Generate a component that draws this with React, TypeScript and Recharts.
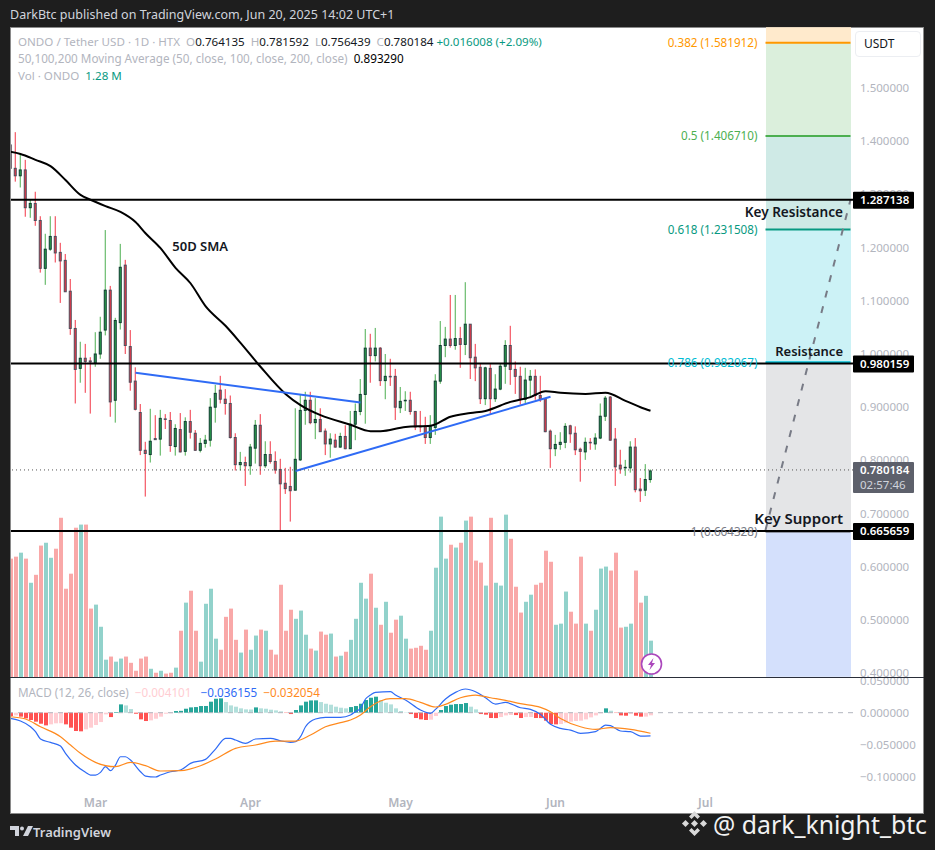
import React from "react";
import { ComposedChart, Bar, Line, XAxis, YAxis, ReferenceLine, ReferenceArea, Cell } from "recharts";

const opens = [1.393,1.349,1.335,1.346,1.275,1.283,1.251,1.161,1.197,1.221,1.191,1.176,1.118,1.048,0.973,0.992,0.987,0.983,1.000,1.045,1.120,0.913,1.059,1.167,1.014,0.949,0.890,0.819,0.811,0.841,0.840,0.878,0.875,0.826,0.858,0.817,0.873,0.851,0.819,0.832,0.838,0.900,0.932,0.915,0.907,0.843,0.792,0.796,0.790,0.823,0.866,0.790,0.811,0.798,0.783,0.757,0.751,0.744,0.801,0.894,0.913,0.871,0.877,0.855,0.831,0.838,0.825,0.845,0.822,0.868,0.892,0.924,1.011,0.997,1.011,0.950,0.958,0.958,0.899,0.912,0.913,0.892,0.864,0.864,0.843,0.862,0.949,1.016,1.028,1.016,1.029,1.018,1.056,0.994,0.975,0.916,0.973,0.916,0.934,0.977,1.016,0.971,0.958,0.915,0.951,0.958,0.922,0.916,0.855,0.822,0.830,0.834,0.865,0.851,0.821,0.816,0.834,0.831,0.842,0.883,0.919,0.840,0.791,0.786,0.786,0.825,0.746,0.744,0.764];
const highs = [1.402,1.417,1.377,1.365,1.291,1.305,1.259,1.226,1.259,1.259,1.209,1.188,1.141,1.064,1.023,1.019,0.994,1.041,1.070,1.233,1.128,1.068,1.207,1.177,1.045,0.975,0.906,0.835,0.897,0.885,0.895,0.887,0.891,0.868,0.889,0.881,0.895,0.857,0.842,0.848,0.917,0.942,0.959,0.934,0.922,0.851,0.816,0.807,0.831,0.876,0.887,0.836,0.836,0.817,0.803,0.786,0.788,0.898,0.923,0.929,0.929,0.917,0.898,0.860,0.851,0.850,0.852,0.866,0.893,0.907,0.953,1.047,1.038,1.049,1.013,1.000,0.991,0.972,0.938,0.930,0.929,0.893,0.893,0.882,0.885,0.962,1.062,1.051,1.111,1.111,1.051,1.135,1.056,1.019,0.982,0.976,0.981,0.962,0.982,1.026,1.053,0.986,0.976,0.974,0.970,0.971,0.959,0.917,0.858,0.848,0.853,0.870,0.867,0.864,0.824,0.843,0.842,0.851,0.907,0.921,0.921,0.861,0.820,0.801,0.836,0.842,0.767,0.793,0.783];
const lows = [1.299,1.324,1.313,1.258,1.256,1.241,1.153,1.130,1.194,1.172,1.096,1.117,1.036,0.907,0.946,0.927,0.888,0.976,0.991,1.035,0.882,0.871,1.046,1.000,0.931,0.894,0.810,0.732,0.796,0.839,0.809,0.859,0.816,0.809,0.815,0.809,0.841,0.818,0.815,0.824,0.826,0.871,0.907,0.886,0.841,0.781,0.781,0.752,0.773,0.794,0.773,0.786,0.794,0.775,0.666,0.737,0.685,0.744,0.799,0.867,0.868,0.840,0.854,0.810,0.805,0.824,0.824,0.821,0.822,0.838,0.885,0.869,0.946,0.986,0.940,0.915,0.940,0.876,0.889,0.893,0.886,0.857,0.853,0.831,0.831,0.848,0.944,0.994,1.012,1.008,0.974,0.998,0.953,0.949,0.906,0.904,0.888,0.910,0.932,0.944,0.942,0.925,0.905,0.908,0.917,0.914,0.910,0.853,0.786,0.808,0.820,0.823,0.833,0.810,0.760,0.801,0.820,0.820,0.840,0.874,0.837,0.752,0.775,0.771,0.777,0.740,0.722,0.733,0.758];
const closes = [1.349,1.335,1.346,1.275,1.283,1.251,1.161,1.197,1.221,1.190,1.175,1.117,1.048,0.971,0.992,0.986,0.985,1.000,1.041,1.120,0.910,1.063,1.163,1.016,0.947,0.896,0.819,0.813,0.836,0.839,0.879,0.877,0.828,0.860,0.816,0.873,0.853,0.819,0.832,0.838,0.900,0.926,0.915,0.907,0.843,0.792,0.796,0.790,0.825,0.866,0.790,0.811,0.798,0.782,0.756,0.747,0.743,0.802,0.894,0.913,0.871,0.877,0.854,0.831,0.840,0.825,0.845,0.822,0.868,0.892,0.924,1.011,0.997,1.011,0.950,0.958,0.957,0.900,0.911,0.913,0.892,0.863,0.863,0.843,0.864,0.949,1.016,1.028,1.016,1.029,1.018,1.056,0.993,0.974,0.916,0.974,0.916,0.934,0.977,1.016,0.971,0.958,0.915,0.951,0.958,0.922,0.915,0.854,0.822,0.830,0.834,0.864,0.850,0.820,0.817,0.834,0.833,0.842,0.883,0.917,0.838,0.788,0.784,0.787,0.825,0.745,0.743,0.764,0.780184];
const volumes = [4.17,4.24,4.38,4.17,3.32,3.60,4.63,4.73,4.20,4.52,5.61,3.11,3.64,5.26,5.37,5.37,2.41,2.55,1.77,0.61,0.72,0.54,0.65,0.72,0.50,0.22,0.65,0.72,0.29,0.15,0.22,0.12,0.15,0.33,1.63,2.62,3.04,1.63,0.54,2.58,3.11,1.35,0.96,2.12,2.41,1.31,0.86,1.67,0.96,1.46,1.67,1.63,0.96,0.79,3.25,1.63,2.37,2.05,2.34,1.49,1.00,0.93,1.60,1.49,1.53,0.72,0.75,0.89,1.31,2.05,3.32,2.76,3.64,2.44,1.84,2.65,1.56,2.02,2.16,1.35,1.00,1.03,1.10,0.96,1.63,3.85,5.65,4.17,4.66,4.56,4.73,5.51,5.65,4.10,4.03,3.22,5.61,3.32,3.22,5.72,4.87,3.18,2.27,2.65,2.90,3.25,3.32,4.45,4.06,1.84,1.88,3.01,2.30,1.88,4.24,1.88,1.63,2.37,3.82,3.89,3.75,4.38,1.74,1.77,1.88,3.75,2.62,2.86,1.28];
const histogram = [-.0052,-.0042,-.0062,-.0088,-.0114,-.0140,-.0172,-.0198,-.0182,-.0166,-.0164,-.0182,-.0234,-.0286,-.0291,-.0260,-.0234,-.0192,-.0146,-.0026,-.0068,.0010,.0130,.0114,.0057,-.0016,-.0104,-.0130,-.0120,-.0094,-.0062,-.0016,-.0010,.0026,.0029,.0062,.0083,.0088,.0104,.0105,.0172,.0218,.0224,.0166,.0114,.0094,.0068,.0052,.0050,.0083,.0068,.0062,.0047,.0036,.0021,-.0005,-.0021,.0042,.0114,.0172,.0192,.0193,.0166,.0140,.0125,.0094,.0078,.0068,.0088,.0104,.0140,.0198,.0234,.0250,.0198,.0156,.0130,.0068,.0026,.0005,-.0021,-.0083,-.0104,-.0114,-.0109,-.0052,.0042,.0104,.0125,.0135,.0136,.0151,.0094,.0052,-.0021,-.0031,-.0083,-.0084,-.0068,-.0042,-.0036,-.0037,-.0083,-.0068,-.0067,-.0083,-.0084,-.0125,-.0177,-.0182,-.0177,-.0156,-.0140,-.0130,-.0125,-.0104,-.0073,-.0042,-.0010,.0068,.0031,-.0005,-.0042,-.0047,-.0021,-.0047,-.0062,-.0061,-.0041];

const smaDays = [0,2,5,8,11,14,16,19,22,25,27,30,33,36,39,43,46,50,55,58,62,68,72,74,79,84,88,92,95,100,104,107,110,115,119,123,126,128];
const smaValues = [1.380,1.376,1.365,1.353,1.327,1.299,1.290,1.278,1.267,1.248,1.227,1.199,1.162,1.133,1.090,1.053,1.021,0.976,0.925,0.904,0.885,0.867,0.855,0.855,0.863,0.865,0.882,0.889,0.893,0.910,0.919,0.930,0.927,0.925,0.927,0.912,0.900,0.8933];
const macdDays = [0,2,4,5,6,8,10,11,13,15,16,17,18,19,20,21,22,23,24,26,27,29,30,32,34,36,39,41,43,44,45,47,49,52,54,56,57,58,59,61,63,66,68,69,70,71,72,73,76,77,79,82,84,85,87,89,91,93,95,97,99,102,104,106,108,110,112,114,117,118,119,120,122,124,126,128];
const macdValues = [-.0089,-.0130,-.0219,-.0297,-.0411,-.0464,-.0521,-.0635,-.0818,-.0932,-.0974,-.0974,-.0932,-.0844,-.0906,-.0818,-.0688,-.0688,-.0740,-.0922,-.0990,-.1005,-.0974,-.0922,-.0896,-.0792,-.0729,-.0568,-.0401,-.0401,-.0427,-.0479,-.0411,-.0401,-.0438,-.0464,-.0453,-.0375,-.0219,-.0099,-.0073,-.0073,-.0036,.0016,.0068,.0214,.0276,.0318,.0328,.0276,.0198,.0042,-.0010,.0052,.0214,.0318,.0370,.0328,.0234,.0135,.0161,.0078,.0052,-.0026,-.0182,-.0245,-.0271,-.0323,-.0297,-.0245,-.0193,-.0203,-.0286,-.0297,-.0365,-.0362];
const signalDays = [0,3,6,10,12,14,17,21,24,27,30,34,38,41,45,49,53,57,60,63,66,68,70,72,74,76,79,82,85,87,90,93,96,99,102,106,108,110,114,117,120,124,128];
const signalValues = [-.0063,-.0099,-.0219,-.0375,-.0505,-.0635,-.0776,-.0844,-.0776,-.0828,-.0911,-.0906,-.0828,-.0724,-.0557,-.0505,-.0443,-.0443,-.0349,-.0219,-.0156,-.0115,-.0036,.0094,.0182,.0219,.0219,.0161,.0089,.0130,.0234,.0276,.0234,.0193,.0141,.0083,.0016,-.0089,-.0219,-.0260,-.0234,-.0260,-.0321];

const totalDays = 169;
const monthTicks = [17, 48, 78, 109, 139];
const monthNames = ["Mar", "Apr", "May", "Jun", "Jul"];
const priceTicks = [0.4,0.5,0.6,0.7,0.8,0.9,1.0,1.1,1.2,1.3,1.4,1.5];
const macdTicks = [0.05,0,-0.05,-0.1];

const fibLevels = [
  { label: "0.382 (1.581912)", price: 1.581912, color: "#ff9800" },
  { label: "0.5 (1.406710)", price: 1.40671, color: "#4caf50" },
  { label: "0.618 (1.231508)", price: 1.231508, color: "#089981" },
  { label: "0.786 (0.982067)", price: 0.982067, color: "#00bcd4" },
  { label: "1 (0.664328)", price: 0.664328, color: "#787b86" },
];
const fibBands = [
  { from: 1.611, to: 1.581912, fill: "#ffeacc" },
  { from: 1.581912, to: 1.40671, fill: "#dbefdc" },
  { from: 1.40671, to: 1.231508, fill: "#cfeae6" },
  { from: 1.231508, to: 0.982067, fill: "#ccf2f6" },
  { from: 0.982067, to: 0.664328, fill: "#e4e5e7" },
  { from: 0.664328, to: 0.392, fill: "#d4e0fc" },
];
const keyLevels = [1.287138, 0.980159, 0.665659];
const lastPrice = 0.780184;
const countdown = "02:57:46";
const blueLines = [
  [{ d: 25, p: 0.9648 }, { d: 70, p: 0.9087 }],
  [{ d: 57, p: 0.7801 }, { d: 108, p: 0.9198 }],
];
const projection = [{ d: 151, p: 0.6675 }, { d: 168, p: 1.287 }];

const SANS = '"Noto Sans", "Open Sans", sans-serif';
const GREY = "#b2b5be";

const lookup = (days: number[], vals: number[], d: number) => {
  const i = days.indexOf(d);
  return i < 0 ? null : vals[i];
};
const rows = Array.from({ length: totalDays }, (_, day) => ({
  day,
  open: opens[day] ?? null,
  high: highs[day] ?? null,
  low: lows[day] ?? null,
  close: closes[day] ?? null,
  vol: volumes[day] ?? null,
  hist: histogram[day] ?? null,
  sma: lookup(smaDays, smaValues, day),
  macd: lookup(macdDays, macdValues, day),
  signal: lookup(signalDays, signalValues, day),
}));

const isUp = (d: number) => closes[d] >= opens[d];

function histColor(d: number) {
  const v = histogram[d];
  const prev = d > 0 ? histogram[d - 1] : v - 0.001 * Math.sign(v);
  if (v >= 0) return v >= prev ? "#26a69a" : "#b2dfdb";
  return v <= prev ? "#ff5252" : "#ffcdd2";
}

function Candle(props: any) {
  const { x, y, width, height, payload } = props;
  if (payload == null || payload.open == null || !height) return null;
  const ppu = height / (payload.high - payload.low);
  const cx = x + width / 2;
  const top = y + (payload.high - Math.max(payload.open, payload.close)) * ppu;
  const bottom = y + (payload.high - Math.min(payload.open, payload.close)) * ppu;
  const up = payload.close >= payload.open;
  return (
    <g>
      <rect x={cx - 0.5} y={y} width={1} height={height} fill={up ? "#4caf50" : "#f23645"} />
      <rect x={cx - 1} y={top} width={2} height={Math.max(bottom - top, 0.5)} fill={up ? "#2ea84f" : "#f23645"} stroke={up ? "#0e3b30" : "#4c4f5c"} strokeWidth={1} />
    </g>
  );
}

function SnapBar(props: any) {
  const { x, y, width, height, fill } = props;
  if (height == null || Number.isNaN(height)) return null;
  const h = Math.abs(height);
  const top = height < 0 ? y + height : y;
  return <rect x={Math.floor(x)} y={top} width={width} height={h} fill={fill} />;
}

function FibBand(props: any) {
  const { x, y, width, height, fill } = props;
  return <rect x={x + 3} y={y} width={width - 5} height={height} fill={fill} />;
}

function priceTag(value: string, fill: string, sub?: string) {
  return (props: any) => {
    const vb = props.viewBox;
    const right = vb.x + vb.width;
    const cy = vb.y;
    const h = sub ? 31 : 17;
    return (
      <g>
        <rect x={right} y={cy - 8} width={61} height={h} rx={1} fill={fill} />
        <text x={right + 7} y={cy + 4.5} fontFamily={SANS} fontSize={11.5} fontWeight={600} fill="#fff">{value}</text>
        {sub ? <text x={right + 7} y={cy + 19} fontFamily={SANS} fontSize={11.5} fill="#d1d4dc">{sub}</text> : null}
      </g>
    );
  };
}

const annotations = [
  { text: "50D SMA", right: 707, top: 238, size: 13 },
  { text: "Key Resistance", right: 92, top: 203, size: 13.6 },
  { text: "Resistance", right: 92, top: 343, size: 13 },
  { text: "Key Support", right: 92, top: 510, size: 15 },
];

const abs = (left: number, top: number, extra: React.CSSProperties = {}): React.CSSProperties => ({
  position: "absolute", left, top, whiteSpace: "nowrap", fontFamily: SANS, ...extra,
});

export default function App() {
  return (
    <div style={{ position: "absolute", left: 0, top: 0, width: 935, height: 850, background: "#1e1e1e", overflow: "hidden" }}>
      <div style={{ position: "absolute", left: 10, top: 27, width: 914, height: 787, background: "#fff", boxSizing: "border-box", border: "1px solid #8a8a8a" }} />

      {/* volume layer */}
      <div style={{ position: "absolute", left: 0, top: 27 }}>
        <ComposedChart width={935} height={650} data={rows} margin={{ top: 0, right: 82, bottom: 0, left: 8 }}>
          <XAxis dataKey="day" type="category" hide />
          <YAxis hide domain={[0, 22.9]} type="number" allowDataOverflow />
          <Bar dataKey="vol" barSize={4} isAnimationActive={false} shape={<SnapBar />}>
            {rows.map((r) => (
              <Cell key={r.day} fill={r.open != null && isUp(r.day) ? "#92d2cb" : "#f9a8a8"} />
            ))}
          </Bar>
        </ComposedChart>
      </div>

      {/* candles, moving average, trend lines, price axis */}
      <div style={{ position: "absolute", left: 0, top: 27 }}>
        <ComposedChart width={935} height={650} data={rows} margin={{ top: 0, right: 0, bottom: 0, left: 8 }}>
          <XAxis dataKey="day" type="category" hide />
          <YAxis orientation="right" width={82} domain={[0.39286, 1.61466]} type="number" allowDataOverflow ticks={priceTicks} interval={0} tickFormatter={(v: number) => v.toFixed(6)} tick={{ fill: GREY, fontSize: 11.5, fontFamily: SANS }} tickLine={false} tickSize={0} axisLine={false} tickMargin={7} />
          <Bar dataKey={(d: any) => (d.high == null ? null : [d.low, d.high])} barSize={5} isAnimationActive={false} shape={<Candle />} />
          <Line dataKey="sma" type="monotone" connectNulls stroke="#000" strokeWidth={2} dot={false} isAnimationActive={false} />
          {blueLines.map((s, i) => (
            <ReferenceLine key={i} segment={[{ x: s[0].d, y: s[0].p }, { x: s[1].d, y: s[1].p }]} stroke="#2f6bf5" strokeWidth={2} />
          ))}
        </ComposedChart>
      </div>

      {/* fib bands, key levels, price tags */}
      <div style={{ position: "absolute", left: 0, top: 27 }}>
        <ComposedChart width={935} height={650} data={rows} margin={{ top: 0, right: 82, bottom: 0, left: 8 }}>
          <XAxis dataKey="day" type="category" scale="band" hide />
          <YAxis hide domain={[0.39164, 1.61137]} type="number" allowDataOverflow />
          {fibBands.map((b) => (
            <ReferenceArea key={b.fill} x1={151} x2={168} y1={b.from} y2={b.to} fill={b.fill} fillOpacity={1} stroke="none" shape={<FibBand />} />
          ))}
          {fibLevels.map((f) => (
            <ReferenceLine key={f.label} segment={[{ x: 151, y: f.price }, { x: 168, y: f.price }]} stroke={f.color} strokeWidth={2} label={{ value: f.label, position: "left", offset: 8, fill: f.color, fontSize: 11.7, fontFamily: SANS }} />
          ))}
          <ReferenceLine y={lastPrice} stroke="#555" strokeWidth={1} strokeDasharray="1 3" label={priceTag(lastPrice.toFixed(6), "#5d606b", countdown)} />
          <ReferenceLine segment={[{ x: projection[0].d, y: projection[0].p }, { x: projection[1].d, y: projection[1].p }]} stroke="#787b86" strokeWidth={2} strokeDasharray="7 9" />
          {keyLevels.map((k) => (
            <ReferenceLine key={k} y={k} stroke="#000" strokeWidth={2} label={priceTag(k.toFixed(6), "#000")} />
          ))}
        </ComposedChart>
      </div>

      <div style={{ position: "absolute", left: 0, top: 677 }}>
        <ComposedChart width={935} height={137} data={rows} margin={{ top: 1, right: 0, bottom: 0, left: 8 }}>
          <XAxis dataKey="day" type="category" height={24} ticks={monthTicks} interval={0} tickFormatter={(v: number) => monthNames[monthTicks.indexOf(v)] ?? ""} tick={{ fill: GREY, fontSize: 12, fontWeight: 600, fontFamily: SANS }} tickLine={false} axisLine={false} tickMargin={2} />
          <YAxis orientation="right" width={82} domain={[-0.12078, 0.05422]} type="number" allowDataOverflow ticks={macdTicks} interval={0} tickFormatter={(v: number) => (v < 0 ? "\u2212" : "") + Math.abs(v).toFixed(6)} tick={{ fill: GREY, fontSize: 11.5, fontFamily: SANS }} tickLine={false} tickSize={0} axisLine={false} tickMargin={7} />
          <ReferenceLine y={0} stroke={GREY} strokeWidth={1} strokeDasharray="5 5" />
          <Bar dataKey="hist" barSize={4} isAnimationActive={false} shape={<SnapBar />}>
            {rows.map((r) => (
              <Cell key={r.day} fill={r.hist != null ? histColor(r.day) : "none"} />
            ))}
          </Bar>
          <Line dataKey="macd" type="monotone" connectNulls stroke="#2f6bf5" strokeWidth={1.2} dot={false} isAnimationActive={false} />
          <Line dataKey="signal" type="monotone" connectNulls stroke="#ff8a1e" strokeWidth={1.2} dot={false} isAnimationActive={false} />
        </ComposedChart>
      </div>

      <div style={{ position: "absolute", left: 0, top: 0, width: 10, height: 850, background: "#1e1e1e" }} />
      <div style={{ position: "absolute", left: 10, top: 27, width: 1, height: 787, background: "#8a8a8a" }} />
      <div style={{ position: "absolute", left: 10, top: 677, width: 914, height: 1, background: "#2a2e39" }} />

      <div style={abs(10, 6, { color: "#d1d4dc", fontSize: 12.5, lineHeight: "18px" })}>DarkBtc published on TradingView.com, Jun 20, 2025 14:02 UTC+1</div>

      <div style={abs(18, 33, { color: GREY, fontSize: 11.6, lineHeight: "17px" })}>
        ONDO / Tether USD · 1D · HTX&nbsp;&nbsp;O<span style={{ color: "#131722" }}>0.764135</span>&nbsp;&nbsp;H<span style={{ color: "#131722" }}>0.781592</span>&nbsp;&nbsp;L<span style={{ color: "#131722" }}>0.756439</span>&nbsp;&nbsp;C<span style={{ color: "#131722" }}>0.780184</span>&nbsp;<span style={{ color: "#089981" }}>+0.016008 (+2.09%)</span>
      </div>
      <div style={abs(18, 50, { color: GREY, fontSize: 11.7, lineHeight: "17px" })}>
        50,100,200 Moving Average (50, close, 100, close, 200, close)&nbsp;&nbsp;<span style={{ color: "#000" }}>0.893290</span>
      </div>
      <div style={abs(18, 67, { color: GREY, fontSize: 11.6, lineHeight: "17px" })}>
        Vol · ONDO&nbsp;&nbsp;<span style={{ color: "#089981" }}>1.28 M</span>
      </div>
      <div style={abs(18, 684, { color: GREY, fontSize: 11.7, lineHeight: "17px" })}>
        MACD (12, 26, close)&nbsp;&nbsp;<span style={{ color: "#ffcdd2" }}>−0.004101</span>&nbsp;&nbsp;&nbsp;<span style={{ color: "#2f6bf5" }}>−0.036155</span>&nbsp;&nbsp;<span style={{ color: "#ff8a1e" }}>−0.032054</span>
      </div>

      <div style={abs(855, 31, { width: 66, height: 26, boxSizing: "border-box", border: "1px solid #eceef2", borderRadius: 4, background: "#fff", color: "#131722", fontSize: 12, lineHeight: "24px", paddingLeft: 8 })}>USDT</div>

      {annotations.map((a) => (
        <div key={a.text} style={{ position: "absolute", right: a.right, top: a.top, whiteSpace: "nowrap", fontFamily: SANS, fontSize: a.size, fontWeight: 600, color: "#131722", lineHeight: "17px" }}>{a.text}</div>
      ))}

      <svg style={{ position: "absolute", left: 640, top: 653 }} width={24} height={24}>
        <circle cx={11.5} cy={11} r={10} fill="#fff" stroke="#ab47bc" strokeWidth={1.6} />
        <path d="M13.5 5 L8 12 L11 12 L9.5 17 L15 10 L12 10 Z" fill="#ab47bc" />
      </svg>

      <svg style={{ position: "absolute", left: 10, top: 825 }} width={24} height={14}>
        <path d="M0 1 H9 V11 H5 V5 H0 Z M18 1 H23 L18 11 H13 Z" fill="#d1d4dc" />
        <circle cx={12} cy={3.5} r={2} fill="#d1d4dc" />
      </svg>
      <div style={abs(33, 823, { color: "#d1d4dc", fontSize: 13, fontWeight: 600, lineHeight: "18px" })}>TradingView</div>

      <svg style={{ position: "absolute", left: 680, top: 809 }} width={30} height={30}>
        <g fill="#d9d9d9">
          <path d="M14.5 2 L20 7.5 L17.5 10 L14.5 7 L11.5 10 L9 7.5 Z" />
          <path d="M14.5 27 L20 21.5 L17.5 19 L14.5 22 L11.5 19 L9 21.5 Z" />
          <rect x={12} y={12} width={5} height={5} transform="rotate(45 14.5 14.5)" />
          <rect x={3} y={12} width={5} height={5} transform="rotate(45 5.5 14.5)" />
          <rect x={21} y={12} width={5} height={5} transform="rotate(45 23.5 14.5)" />
        </g>
      </svg>
      <div style={abs(713, 809, { color: "#f2f2f2", fontSize: 24.8, lineHeight: "30px" })}>@ dark_knight_btc</div>
    </div>
  );
}
